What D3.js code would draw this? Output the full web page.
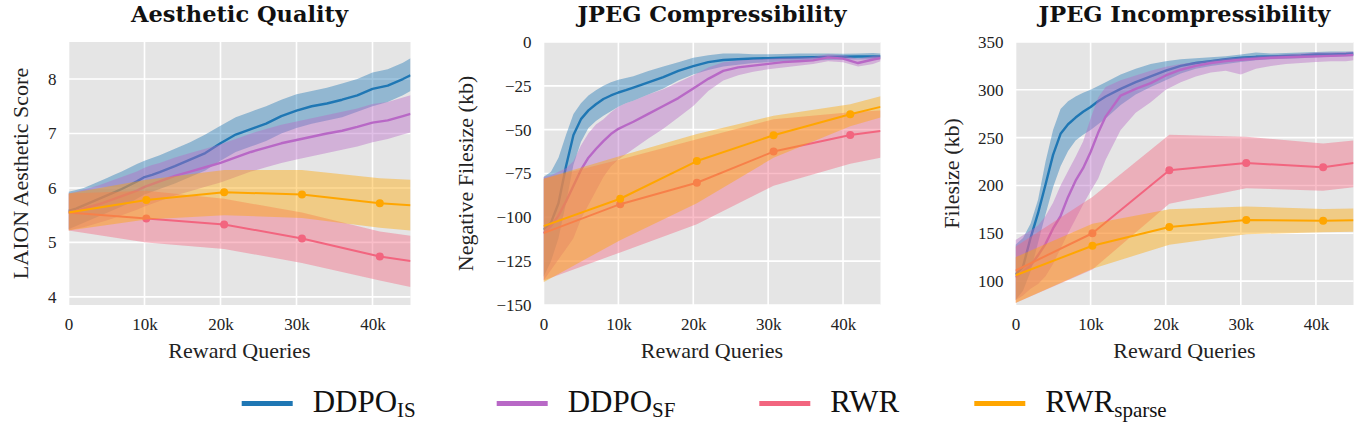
<!DOCTYPE html>
<html>
<head>
<meta charset="utf-8">
<script src="https://cdn.jsdelivr.net/npm/d3@7"></script>
<style>
  body { margin: 0; background: #fff; }
  svg { display: block; }
  svg text { font-family: "Liberation Serif", "Times New Roman", serif; }
  svg text.title { font-family: "DejaVu Serif", serif; font-weight: bold; }
</style>
</head>
<body>
<script>
// reward queries, in thousands
var XS = [0,1,2,3,4,5,6,7,8,9,10,11,12,14,16,18,20,22,24,26,28,30,32,34,36,38,40,42,44,45];
var RWR_XS = [0, 10.24, 20.48, 30.72, 40.96, 45];
var X_TICKS = [0, 10, 20, 30, 40];

// Aesthetic Quality
var aesIsMean = [5.58,5.62,5.68,5.74,5.80,5.86,5.92,5.98,6.05,6.12,6.20,6.24,6.29,6.40,6.52,6.64,6.82,6.98,7.08,7.18,7.32,7.42,7.50,7.55,7.62,7.70,7.82,7.88,8.00,8.07];
var aesIsHi   = [5.93,5.96,6.00,6.06,6.12,6.18,6.24,6.30,6.37,6.44,6.50,6.55,6.60,6.72,6.84,6.98,7.14,7.30,7.40,7.50,7.62,7.72,7.78,7.84,7.92,8.00,8.12,8.18,8.30,8.38];
var aesIsLo   = [5.24,5.30,5.36,5.42,5.48,5.54,5.60,5.66,5.72,5.80,5.88,5.93,5.98,6.08,6.20,6.32,6.50,6.66,6.76,6.86,7.00,7.10,7.18,7.24,7.30,7.40,7.50,7.58,7.70,7.78];
var aesSfMean = [5.55,5.58,5.62,5.66,5.70,5.75,5.80,5.85,5.90,5.95,6.02,6.07,6.12,6.22,6.30,6.38,6.46,6.56,6.66,6.74,6.82,6.88,6.94,7.00,7.05,7.12,7.20,7.24,7.32,7.36];
var aesSfHi   = [5.90,5.93,5.97,6.01,6.05,6.10,6.15,6.20,6.25,6.30,6.37,6.42,6.46,6.56,6.64,6.72,6.80,6.90,7.00,7.08,7.16,7.22,7.28,7.34,7.40,7.46,7.54,7.58,7.66,7.70];
var aesSfLo   = [5.22,5.25,5.28,5.32,5.36,5.40,5.45,5.50,5.55,5.60,5.66,5.71,5.76,5.86,5.94,6.02,6.10,6.20,6.30,6.38,6.46,6.52,6.58,6.64,6.70,6.76,6.84,6.90,6.98,7.02];
var aesRwrMean = [5.55,5.44,5.33,5.07,4.74,4.66];
var aesRwrHi   = [5.90,5.95,5.80,5.55,5.20,5.12];
var aesRwrLo   = [5.22,5.00,4.88,4.62,4.30,4.18];
var aesSpMean  = [5.55,5.78,5.92,5.88,5.72,5.68];
var aesSpHi    = [5.90,6.15,6.33,6.33,6.18,6.15];
var aesSpLo    = [5.22,5.42,5.50,5.45,5.27,5.22];

// JPEG Compressibility
var cmpIsMean = [-107,-103,-92,-71,-53,-44,-39,-35.5,-32.5,-30.5,-28.8,-27.5,-26,-23,-20,-16.5,-13.8,-11.5,-10.3,-9.8,-9.4,-9.2,-9,-8.8,-8.6,-8.5,-8.4,-8.3,-8.2,-8.2];
var cmpIsHi   = [-77,-74,-66,-53,-41,-35,-30.5,-27.5,-25,-23,-21.5,-20.5,-19.5,-16.5,-14,-11.5,-9,-7.5,-6.5,-6.5,-7,-7,-6.8,-6.5,-6.5,-6.5,-6.7,-6.5,-6.3,-6.5];
var cmpIsLo   = [-134,-125,-112,-92,-70,-57,-49,-45,-42,-39.5,-37,-35,-33.5,-30,-26.5,-22,-18.5,-16,-14,-13,-12,-11.5,-11,-10.8,-10.5,-10.3,-10,-10,-9.8,-9.8];
var cmpSfMean = [-109,-105,-99,-91,-82,-73,-66,-61,-56.5,-52.5,-49.5,-47.5,-45.5,-41,-36.5,-32,-26.5,-21,-16.5,-14.5,-13.5,-12.5,-11.5,-11,-10.5,-8.8,-9.5,-12,-10,-9.2];
var cmpSfHi   = [-77,-76,-74,-72,-68,-59,-52,-47,-44,-40,-37,-35,-33.5,-30,-27,-23,-19,-14.5,-11.5,-10.5,-10,-9.5,-9,-8.8,-8.5,-7,-7.5,-9.5,-8,-7.5];
var cmpSfLo   = [-136,-130,-124,-118,-112,-101,-93,-85,-77,-71,-67,-64,-61,-55,-49.5,-43,-36.5,-28,-22,-19,-17,-15.5,-14.5,-13.5,-12.5,-11,-11.5,-14,-12.5,-11];
var cmpRwrMean = [-109,-92.5,-80.3,-62.5,-53,-50.7];
var cmpRwrHi   = [-78,-67,-55.5,-44,-40,-39];
var cmpRwrLo   = [-136,-120,-104,-82,-69.5,-66];
var cmpSpMean  = [-105,-89.4,-67.9,-53.2,-41.2,-37];
var cmpSpHi    = [-78,-65,-52.5,-42,-35.5,-31];
var cmpSpLo    = [-137,-113,-92,-66,-48,-43];

// JPEG Incompressibility
var incIsMean = [107,115,145,171,201,232,254,264,271,277,282,288,293,301,308,314,320,325,328,330,332,333.5,334.5,335,335.5,336,337,337,337.5,338];
var incIsHi   = [138,145,160,185,225,258,280,288,293,297,300,304,308,316,322,327,330,332,333,334,335,337,339,338,338.5,339,339.5,340,340,340];
var incIsLo   = [80,90,110,140,170,198,220,236,247,253,258,264,270,284,295,303,310,317,322,325,327,329,331,332,332.5,333,334,334.5,335,335];
var incSfMean = [104,110,116,127,139,155,168,188,205,218,235,255,272,294,301,307,315,321,325,328,330,331.5,332.5,333.5,334,334.5,335,335.5,336,336.5];
var incSfHi   = [143,148,153,158,168,182,200,215,230,246,270,292,303,310,315,320,324,327,329,331,333,334,335,336,337,338,339,339,339.5,340];
var incSfLo   = [80,85,92,97,105,118,134,150,165,180,194,207,227,258,276,287,300,308,314,318,320,316,322,325,327,328,329,330,330,331];
var incRwrMean = [111,150,216,223.5,219,223.5];
var incRwrHi   = [136,188,253,251,244,247];
var incRwrLo   = [77,112,181,197,194.5,198];
var incSpMean  = [106,137,156.5,164,163,163.5];
var incSpHi    = [125,160,175,178,175.5,176];
var incSpLo    = [77,113,138,149,151,151.5];

var SERIES_NAMES = ["DDPO", "DDPO", "RWR", "RWR"];
var SERIES_SUBS = ["IS", "SF", "", "sparse"];
var COLORS = ["#1f77b4", "#b868c6", "#f2657f", "#ffa600"];

var W = 1356, H = 423;
var TOP = 42, PH = 263;
var PANEL_LEFT = [68.5, 543.5, 1015.5];
var PANEL_W = [342, 337, 338];
var YLABEL_X = [21, 466, 952];

var panels = [
  { title: "Aesthetic Quality", ylabel: "LAION Aesthetic Score", ydom: [3.85, 8.68], yticks: [4,5,6,7,8],
    is: [aesIsMean, aesIsLo, aesIsHi], sf: [aesSfMean, aesSfLo, aesSfHi],
    rwr: [aesRwrMean, aesRwrLo, aesRwrHi], sp: [aesSpMean, aesSpLo, aesSpHi] },
  { title: "JPEG Compressibility", ylabel: "Negative Filesize (kb)", ydom: [-150, 0], yticks: [-150,-125,-100,-75,-50,-25,0],
    is: [cmpIsMean, cmpIsLo, cmpIsHi], sf: [cmpSfMean, cmpSfLo, cmpSfHi],
    rwr: [cmpRwrMean, cmpRwrLo, cmpRwrHi], sp: [cmpSpMean, cmpSpLo, cmpSpHi] },
  { title: "JPEG Incompressibility", ylabel: "Filesize (kb)", ydom: [75, 350], yticks: [100,150,200,250,300,350],
    is: [incIsMean, incIsLo, incIsHi], sf: [incSfMean, incSfLo, incSfHi],
    rwr: [incRwrMean, incRwrLo, incRwrHi], sp: [incSpMean, incSpLo, incSpHi] }
];

var svg = d3.select("body").append("svg")
  .attr("width", W)
  .attr("height", H);

panels.forEach(function(p, i) {
  var left = PANEL_LEFT[i], pw = PANEL_W[i];
  var x = d3.scaleLinear().domain([0, 45]).range([0, pw]);
  var y = d3.scaleLinear().domain(p.ydom).range([PH, 0]);

  var g = svg.append("g").attr("transform", "translate(" + left + "," + TOP + ")");

  g.append("rect").attr("width", pw).attr("height", PH).attr("fill", "#e5e5e5");

  // grid
  g.selectAll(".vgrid").data(X_TICKS).enter().append("line")
    .attr("x1", function(d) { return x(d); }).attr("x2", function(d) { return x(d); })
    .attr("y1", 0).attr("y2", PH)
    .attr("stroke", "#fff").attr("stroke-width", 1.6);
  g.selectAll(".hgrid").data(p.yticks).enter().append("line")
    .attr("x1", 0).attr("x2", pw)
    .attr("y1", function(d) { return y(d); }).attr("y2", function(d) { return y(d); })
    .attr("stroke", "#fff").attr("stroke-width", 1.6);

  var clipId = "clip" + i;
  g.append("clipPath").attr("id", clipId).append("rect").attr("width", pw).attr("height", PH);
  var plot = g.append("g").attr("clip-path", "url(#" + clipId + ")");

  function drawSeries(xs, vals, color, markers) {
    var rows = xs.map(function(xv, k) { return { x: xv, m: vals[0][k], lo: vals[1][k], hi: vals[2][k] }; });
    plot.append("path").datum(rows)
      .attr("fill", color).attr("fill-opacity", 0.42)
      .attr("d", d3.area().x(function(d) { return x(d.x); }).y0(function(d) { return y(d.lo); }).y1(function(d) { return y(d.hi); }));
    plot.append("path").datum(rows)
      .attr("fill", "none").attr("stroke", color).attr("stroke-width", markers ? 2 : 2.4)
      .attr("stroke-linejoin", "round")
      .attr("d", d3.line().x(function(d) { return x(d.x); }).y(function(d) { return y(d.m); }));
    if (markers) {
      plot.selectAll(null).data(rows.slice(1, rows.length - 1)).enter().append("circle")
        .attr("cx", function(d) { return x(d.x); })
        .attr("cy", function(d) { return y(d.m); })
        .attr("r", 4)
        .attr("fill", color);
    }
  }

  drawSeries(XS, p.is, COLORS[0], false);
  drawSeries(XS, p.sf, COLORS[1], false);
  drawSeries(RWR_XS, p.rwr, COLORS[2], true);
  drawSeries(RWR_XS, p.sp, COLORS[3], true);

  // axes
  var xAxis = g.append("g").attr("transform", "translate(0," + PH + ")")
    .call(d3.axisBottom(x).tickValues(X_TICKS).tickSize(0).tickPadding(13)
      .tickFormat(function(d) { return d === 0 ? "0" : d + "k"; }));
  var yAxis = g.append("g")
    .call(d3.axisLeft(y).tickValues(p.yticks).tickSize(0).tickPadding(12).tickFormat(d3.format("d")));
  [xAxis, yAxis].forEach(function(a) {
    a.attr("font-family", null).attr("font-size", null);
    a.select(".domain").remove();
    a.selectAll("text").style("font-size", "17px").attr("fill", "#222");
  });

  svg.append("text")
    .attr("class", "title")
    .attr("x", left + pw / 2).attr("y", 22)
    .attr("text-anchor", "middle")
    .style("font-size", "22.5px")
    .attr("fill", "#111")
    .text(p.title);

  svg.append("text")
    .attr("x", left + pw / 2).attr("y", 358)
    .attr("text-anchor", "middle")
    .style("font-size", "22px")
    .attr("fill", "#222")
    .text("Reward Queries");

  svg.append("text")
    .attr("transform", "translate(" + (YLABEL_X[i] + 7) + "," + (TOP + PH / 2) + ") rotate(-90)")
    .attr("text-anchor", "middle")
    .style("font-size", "22px")
    .attr("fill", "#222")
    .text(p.ylabel);
});

// legend
var LEG_X = [241.7, 496.7, 759.3, 974.3];
var legend = svg.append("g");
SERIES_NAMES.forEach(function(name, i) {
  legend.append("line")
    .attr("x1", LEG_X[i]).attr("x2", LEG_X[i] + 51)
    .attr("y1", 403.5).attr("y2", 403.5)
    .attr("stroke", COLORS[i]).attr("stroke-width", 5);
  var t = legend.append("text")
    .attr("x", LEG_X[i] + 71).attr("y", 412)
    .style("font-size", "31px")
    .attr("fill", "#111")
    .text(name);
  if (SERIES_SUBS[i]) {
    t.append("tspan").attr("dy", 5).style("font-size", "21px").text(SERIES_SUBS[i]);
  }
});
</script>
</body>
</html>
